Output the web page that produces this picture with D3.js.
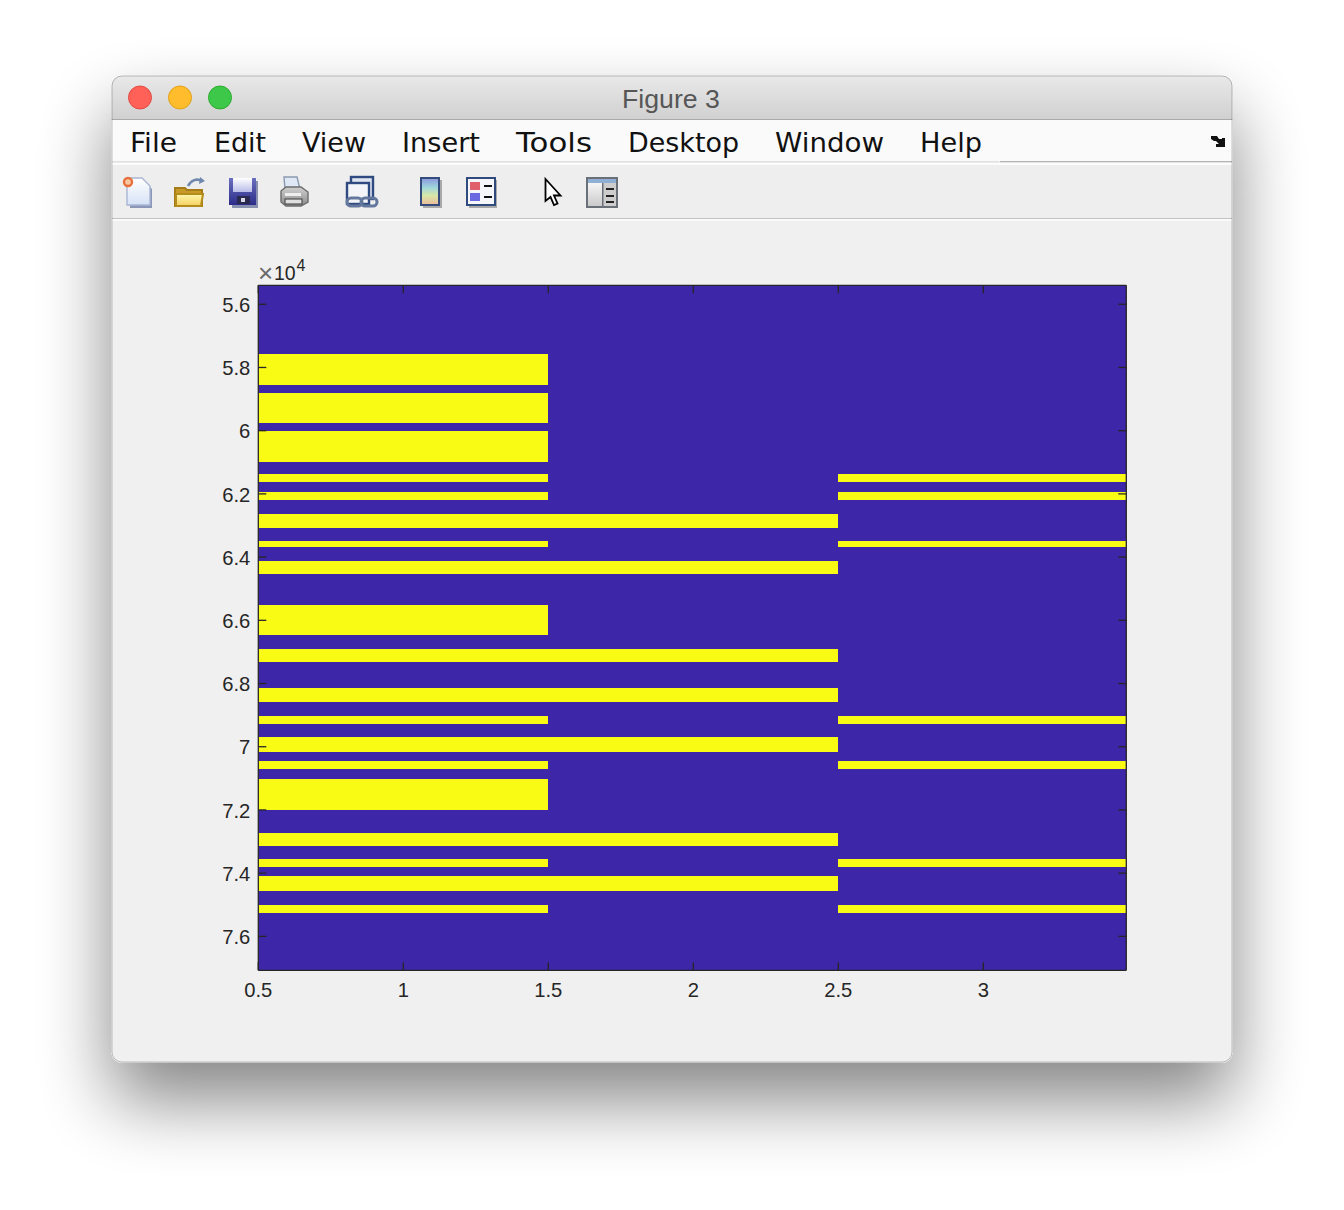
<!DOCTYPE html>
<html>
<head>
<meta charset="utf-8">
<title>Figure 3</title>
<script src="https://cdn.jsdelivr.net/npm/d3@7/dist/d3.min.js"></script>
<style>
html,body{margin:0;padding:0;background:#fff;}
svg{display:block;}
</style>
</head>
<body>
<svg id="fig" width="1344" height="1210"></svg>
<script>
// Image rows: each row spans rowStart..rowEnd on the y axis and is "on" in some columns.
const rowStart = [57573,58807,60009,61370,61940,62636,63491,64123,65516,66908,68142,69028,69693,70453,71022,72731,73554,74092,75009];
const rowEnd   = [58554,59756,60991,61623,62193,63079,63680,64535,66465,67320,68585,69282,70168,70706,72003,73142,73807,74566,75263];
const column1  = [1,1,1,1,1,1,1,1,1,1,1,1,1,1,1,1,1,1,1];
const column2  = [0,0,0,0,0,1,0,1,0,1,1,0,1,0,0,1,0,1,0];
const column3  = [0,0,0,1,1,0,1,0,0,0,0,1,0,1,0,0,1,0,1];
const columns  = [column1,column2,column3];
const columnIds = [1,2,3];

const xLimits = [0.5,3.493];
const yLimits = [55400,77074];
const xTicks = [0.5,1,1.5,2,2.5,3];
const yTicks = [56000,58000,60000,62000,64000,66000,68000,70000,72000,74000,76000];
const menuItems = ["File","Edit","View","Insert","Tools","Desktop","Window","Help"];
const menuX = [130,214,302,402,516,628,775,920];
const menuW = [47,52,64,78,76,111,109,62];

const LOW = "#3e26a8", HIGH = "#f9fb15", INK = "#262626";
const svg = d3.select("#fig");
const defs = svg.append("defs");

function vGrad(id, stops){
  const g = defs.append("linearGradient").attr("id",id).attr("x1",0).attr("y1",0).attr("x2",0).attr("y2",1);
  stops.forEach(([o,c])=>g.append("stop").attr("offset",o).attr("stop-color",c));
}
vGrad("titleGrad",[[0,"#e9e9e9"],[1,"#d0d0d0"]]);
vGrad("docGrad",[[0,"#ffffff"],[1,"#d6e2f6"]]);
vGrad("folderGrad",[[0,"#fff8b0"],[1,"#f4d060"]]);
vGrad("barGrad",[[0,"#8c96dc"],[0.35,"#9fd6dc"],[0.65,"#d8e8a8"],[1,"#eeb89a"]]);
vGrad("panelGrad",[[0,"#ffffff"],[1,"#c8c8c8"]]);
vGrad("floppyGrad",[[0,"#6a70c0"],[1,"#2c2c88"]]);
vGrad("labelGrad",[[0,"#ffffff"],[1,"#b8bce8"]]);
vGrad("printerGrad",[[0,"#d0d0d0"],[1,"#8a8a8a"]]);

const shadow = defs.append("filter").attr("id","winShadow")
  .attr("x","-25%").attr("y","-25%").attr("width","150%").attr("height","150%");
shadow.append("feGaussianBlur").attr("in","SourceAlpha").attr("stdDeviation",36).attr("result","b");
shadow.append("feOffset").attr("in","b").attr("dy",38).attr("result","o");
shadow.append("feComponentTransfer").attr("in","o").attr("result","s")
  .append("feFuncA").attr("type","linear").attr("slope",0.48);
const merge = shadow.append("feMerge");
merge.append("feMergeNode").attr("in","s");
merge.append("feMergeNode").attr("in","SourceGraphic");

// Window frame
const W = {x:111.5,y:75.5,w:1121,h:987,r:10};
svg.append("rect").attr("x",W.x).attr("y",W.y).attr("width",W.w).attr("height",W.h).attr("rx",W.r)
  .attr("fill","#f0f0f0").attr("filter","url(#winShadow)");
defs.append("clipPath").attr("id","winClip").append("rect")
  .attr("x",W.x).attr("y",W.y).attr("width",W.w).attr("height",W.h).attr("rx",W.r);
const win = svg.append("g").attr("clip-path","url(#winClip)");

win.append("rect").attr("x",W.x).attr("y",W.y).attr("width",W.w).attr("height",44.5).attr("fill","url(#titleGrad)");
win.append("rect").attr("x",W.x).attr("y",119).attr("width",W.w).attr("height",1.2).attr("fill","#a9a9a9");
win.append("rect").attr("x",W.x).attr("y",120).attr("width",W.w).attr("height",42).attr("fill","#fafafa");
win.append("rect").attr("x",W.x).attr("y",161.5).attr("width",888).attr("height",1).attr("fill","#c6c6c6");
win.append("rect").attr("x",1000).attr("y",161).attr("width",232).attr("height",1.6).attr("fill","#b4b4b4");
win.append("rect").attr("x",W.x).attr("y",162.5).attr("width",W.w).attr("height",2.5).attr("fill","#fcfcfc");
win.append("rect").attr("x",W.x).attr("y",165).attr("width",W.w).attr("height",53).attr("fill","#eeeeee");
win.append("rect").attr("x",W.x).attr("y",218).attr("width",W.w).attr("height",1).attr("fill","#c2c2c2");
win.append("rect").attr("x",W.x).attr("y",219).attr("width",W.w).attr("height",2).attr("fill","#fafafa");
svg.append("rect").attr("x",W.x+.5).attr("y",W.y+.5).attr("width",W.w-1).attr("height",W.h-1).attr("rx",W.r)
  .attr("fill","none").attr("stroke","#000").attr("stroke-opacity",.22);

// Traffic lights
[["#ff6159","#e24b41",140],["#ffbd2e","#e1a116",180],["#3dc84a","#2dac2f",220]].forEach(([f,s,cx])=>{
  svg.append("circle").attr("cx",cx).attr("cy",97.5).attr("r",11.5).attr("fill",f).attr("stroke",s).attr("stroke-width",1);
});

svg.append("text").attr("x",671).attr("y",108).attr("text-anchor","middle")
  .attr("font-family","'Liberation Sans',Arial,sans-serif").attr("font-size",26.7).attr("fill","#565656").text("Figure 3");

svg.append("g").selectAll("text").data(menuItems).join("text")
  .attr("x",(d,i)=>menuX[i]).attr("y",152)
  .attr("textLength",(d,i)=>menuW[i]).attr("lengthAdjust","spacingAndGlyphs")
  .attr("font-family","'DejaVu Sans',sans-serif").attr("font-size",27).attr("fill","#111").text(d=>d);

// Menu-bar overflow glyph
svg.append("path").attr("d","M1211 136h6l2 3h3v-1l3 0v9h-9v-3l3 0l-3 -3h-2l-3 -2z").attr("fill","#111");

// Toolbar icons
const tb = svg.append("g");
// new document
tb.append("path").attr("d","M130 181h14l8 8v19h-22z").attr("fill","#8c97b8");
tb.append("path").attr("d","M127 178h15l8 8v19h-23z").attr("fill","url(#docGrad)").attr("stroke","#a8b6d4").attr("stroke-width",1.4);
tb.append("circle").attr("cx",128).attr("cy",182).attr("r",4).attr("fill","#f8c8a0").attr("stroke","#e8703c").attr("stroke-width",2.4);
// open folder
tb.append("path").attr("d","M188 186c3-6 9-8 14-5").attr("fill","none").attr("stroke","#6f88ad").attr("stroke-width",2.6);
tb.append("path").attr("d","M200 177l5 4-6 3z").attr("fill","#6f88ad");
tb.append("path").attr("d","M175 188h10l2 2h15v16h-27z").attr("fill","#c99a28").attr("stroke","#a67c18").attr("stroke-width",2);
tb.append("path").attr("d","M176 194h27l-2 12h-25z").attr("fill","url(#folderGrad)").attr("stroke","#b48c1c").attr("stroke-width",2);
// floppy disk
tb.append("rect").attr("x",232).attr("y",181).attr("width",26).attr("height",27).attr("fill","#8890b0");
tb.append("rect").attr("x",229).attr("y",178).attr("width",27).attr("height",27).attr("fill","url(#floppyGrad)");
tb.append("rect").attr("x",233).attr("y",178).attr("width",19).attr("height",14).attr("fill","url(#labelGrad)");
tb.append("rect").attr("x",237).attr("y",196).attr("width",13).attr("height",8).attr("fill","#2a2a50");
tb.append("rect").attr("x",241).attr("y",198).attr("width",4).attr("height",4).attr("fill","#d8d8e0");
// printer
tb.append("path").attr("d","M284 177h13l3 12h-15z").attr("fill","#dfe8f4").attr("stroke","#8a9ab0").attr("stroke-width",1.4);
tb.append("path").attr("d","M281 191l5-4h15l7 5v10l-7 4h-15l-5-4z").attr("fill","url(#printerGrad)").attr("stroke","#6c6c6c").attr("stroke-width",1.4);
tb.append("rect").attr("x",285).attr("y",193).attr("width",16).attr("height",3).attr("fill","#eeeeee");
tb.append("rect").attr("x",285).attr("y",199).attr("width",17).attr("height",5).attr("fill","#e0e0e0").attr("stroke","#505050").attr("stroke-width",1.2);
// print preview
tb.append("rect").attr("x",351).attr("y",177).attr("width",22).attr("height",22).attr("fill","#dfe4f0").attr("stroke","#2f4a80").attr("stroke-width",2.4);
tb.append("rect").attr("x",347).attr("y",183).attr("width",22).attr("height",21).attr("fill","#f2f4f8").attr("stroke","#2f4a80").attr("stroke-width",2.4);
tb.append("rect").attr("x",347).attr("y",198).attr("width",15).attr("height",8).attr("rx",4).attr("fill","none").attr("stroke","#64789e").attr("stroke-width",3);
tb.append("rect").attr("x",361).attr("y",198).attr("width",16).attr("height",8).attr("rx",4).attr("fill","none").attr("stroke","#64789e").attr("stroke-width",3);
// colorbar
tb.append("rect").attr("x",423).attr("y",180).attr("width",19).attr("height",28).attr("fill","#a9a9a9");
tb.append("rect").attr("x",421).attr("y",178).attr("width",18).attr("height",27).attr("fill","url(#barGrad)").attr("stroke","#334c7c").attr("stroke-width",2);
// legend
tb.append("rect").attr("x",469).attr("y",180).attr("width",28).attr("height",28).attr("fill","#a9a9a9");
tb.append("rect").attr("x",467).attr("y",178).attr("width",28).attr("height",27).attr("fill","#f4f6fa").attr("stroke","#2f4a7c").attr("stroke-width",2);
tb.append("rect").attr("x",470).attr("y",182).attr("width",10).attr("height",8).attr("fill","#e0606a");
tb.append("rect").attr("x",470).attr("y",193).attr("width",10).attr("height",8).attr("fill","#6a68e0");
tb.append("rect").attr("x",484).attr("y",185).attr("width",8).attr("height",2).attr("fill","#111");
tb.append("rect").attr("x",484).attr("y",196).attr("width",8).attr("height",2).attr("fill","#111");
// pointer
tb.append("path").attr("d","M545.5 179v22l5-4 3.5 8 3.5-1.5-3.5-8h6.5z").attr("fill","#fff").attr("stroke","#000").attr("stroke-width",1.8);
// property panel
tb.append("rect").attr("x",587).attr("y",178).attr("width",30).attr("height",29).attr("fill","url(#panelGrad)").attr("stroke","#6a7078").attr("stroke-width",2);
tb.append("rect").attr("x",588).attr("y",179).attr("width",28).attr("height",4).attr("fill","#8fb0d4");
tb.append("rect").attr("x",603).attr("y",183).attr("width",13).attr("height",23).attr("fill","#cdcdcd");
tb.append("rect").attr("x",602).attr("y",183).attr("width",1.5).attr("height",23).attr("fill","#6a7078");
[188,195,201].forEach(y=>tb.append("rect").attr("x",606).attr("y",y).attr("width",8).attr("height",2).attr("fill","#222"));

// Axes area
const x = d3.scaleLinear().domain(xLimits).range([258.3,1126.3]);
const y = d3.scaleLinear().domain(yLimits).range([285.3,970.3]);
const plot = svg.append("g");

plot.append("rect").attr("x",x(xLimits[0])).attr("y",y(yLimits[0]))
  .attr("width",x(xLimits[1])-x(xLimits[0])).attr("height",y(yLimits[1])-y(yLimits[0])).attr("fill",LOW);

// Lit cells, one rect per column and row
columnIds.forEach((id,c)=>{
  const on = rowStart.map((_,i)=>i).filter(i=>columns[c][i]);
  const left = x(id-0.5), right = x(Math.min(id+0.5,xLimits[1]));
  plot.append("g").selectAll("rect").data(on).join("rect")
    .attr("x",left).attr("width",right-left)
    .attr("y",i=>y(rowStart[i])).attr("height",i=>y(rowEnd[i])-y(rowStart[i]))
    .attr("fill",HIGH).attr("shape-rendering","crispEdges");
});

const fontAxis = "'Liberation Sans',Arial,sans-serif";
const fmtX = d3.format("~g");
const fmtY = v=>d3.format("~g")(v/10000);
function styleAxis(g){
  g.selectAll("path,line").attr("stroke",INK).attr("stroke-width",1.3);
  g.selectAll("text").attr("fill",INK).attr("font-family",fontAxis).attr("font-size",20.2);
}
plot.append("g").attr("transform",`translate(0,${y.range()[1]})`)
  .call(d3.axisBottom(x).offset(0).tickValues(xTicks).tickFormat(fmtX).tickSize(-8).tickSizeOuter(0).tickPadding(12.8)).call(styleAxis);
plot.append("g").attr("transform",`translate(0,${y.range()[0]})`)
  .call(d3.axisTop(x).offset(0).tickValues(xTicks).tickFormat("").tickSize(-8).tickSizeOuter(0)).call(styleAxis);
plot.append("g").attr("transform",`translate(${x.range()[0]},0)`)
  .call(d3.axisLeft(y).offset(0).tickValues(yTicks).tickFormat(fmtY).tickSize(-8).tickSizeOuter(0).tickPadding(8)).call(styleAxis)
  .selectAll("text").attr("dy","0.38em");
plot.append("g").attr("transform",`translate(${x.range()[1]},0)`)
  .call(d3.axisRight(y).offset(0).tickValues(yTicks).tickFormat("").tickSize(-8).tickSizeOuter(0)).call(styleAxis);

// Axis exponent
const expo = plot.append("text").attr("font-family",fontAxis).attr("fill",INK);
expo.append("tspan").attr("x",258).attr("y",282).attr("font-size",26).attr("font-weight",300).attr("fill","#6a6a6a").text("×");
expo.append("tspan").attr("x",274).attr("y",280).attr("font-size",19.5).text("10");
expo.append("tspan").attr("x",296.5).attr("y",271).attr("font-size",16).text("4");
</script>
</body>
</html>
